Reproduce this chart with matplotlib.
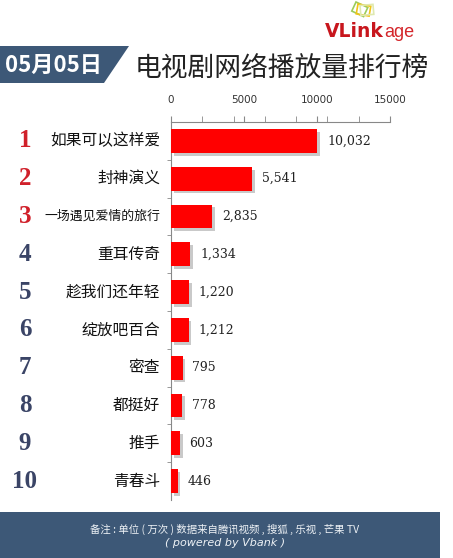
import matplotlib
matplotlib.use("Agg")
import matplotlib.pyplot as plt
import matplotlib.patches as mpatches
import matplotlib.patheffects as pe
from matplotlib.transforms import blended_transform_factory

plt.rcParams['font.family'] = ['Noto Sans CJK SC', 'DejaVu Sans']

# data
ranks = ['1', '2', '3', '4', '5', '6', '7', '8', '9', '10']
dramas = ['如果可以这样爱', '封神演义', '一场遇见爱情的旅行', '重耳传奇', '趁我们还年轻',
          '绽放吧百合', '密查', '都挺好', '推手', '青春斗']
views = [10032, 5541, 2835, 1334, 1220, 1212, 795, 778, 603, 446]
x_ticks = [0, 5000, 10000, 15000]

W, H = 453, 558
navy = '#3d5877'
fig = plt.figure(figsize=(W / 100, H / 100), dpi=100)

# background layer in pixel coords
bg = fig.add_axes([0, 0, 1, 1], zorder=0)
bg.set_xlim(0, W)
bg.set_ylim(H, 0)
bg.axis('off')

# date banner
bg.add_patch(mpatches.Polygon([(0, 46), (129, 46), (104, 83), (0, 83)], closed=True,
                              facecolor=navy, edgecolor='none'))
bg.text(54, 65, '05月05日', color='white', fontsize=16, fontweight='bold',
        ha='center', va='center')
bg.text(135, 69, '电视剧网络播放量排行榜', color='#222222', fontsize=19.3,
        ha='left', va='center')

# logo: "VLink" bold + "age" regular, placed right after each other
t1 = bg.text(325, 37, 'VLink', color='#c8161d', fontsize=13.5, fontweight='bold',
             family='DejaVu Sans', ha='left', va='baseline')
fig.canvas.draw()
bb = t1.get_window_extent(fig.canvas.get_renderer())
age_x = 325 + bb.width + 0.5
bg.text(age_x, 37, 'age', color='#d4262b', fontsize=13,
        family='Liberation Sans', ha='left', va='baseline')
for dx, dy, ang, col in [(0, 0, 25, '#9ccc5a'), (2, 2, 10, '#f0c419'), (4, 3.5, -5, '#dfe9b0')]:
    bg.add_patch(mpatches.Rectangle((356 + dx, 2 + dy), 13, 10, angle=ang,
                                    fill=False, edgecolor=col, linewidth=1.2))

# footer
bg.add_patch(mpatches.Rectangle((0, 512), 440, 46, facecolor=navy, edgecolor='none'))
bg.text(225, 529, '备注 : 单位 ( 万次 ) 数据来自腾讯视频 , 搜狐 , 乐视 , 芒果 TV',
        color='#eef2f6', fontsize=7.5, ha='center', va='center')
bg.text(225, 543, '( powered by Vbank )', color='#eef2f6', fontsize=8,
        style='italic', family='DejaVu Sans', ha='center', va='center')

# main chart
ax = fig.add_axes([171 / W, 1 - 500 / H, 219 / W, 378 / H], zorder=1)
ax.patch.set_alpha(0)
y = list(range(len(views)))
bars = ax.barh(y, views, height=0.63, color='#ff0000', zorder=3)
for b in bars:
    b.set_path_effects([pe.SimplePatchShadow(offset=(2, -2), shadow_rgbFace='#666666', alpha=0.35),
                        pe.Normal()])
ax.set_xlim(0, 15000)
ax.set_ylim(len(views) - 0.5, -0.5)

ax.xaxis.tick_top()
ax.set_xticks(x_ticks)
ax.set_xticklabels([str(t) for t in x_ticks], fontsize=7.5, color='#333333',
                   family='DejaVu Sans')
ax.set_xticks([15000 * k / 7 for k in range(8)], minor=True)
ax.tick_params(axis='x', which='both', direction='out', length=4, color='#888888', pad=8)
ax.set_yticks([])
ax.set_yticks([i + 0.5 for i in y[:-1]], minor=True)
ax.tick_params(axis='y', which='minor', direction='out', length=3, color='#888888')
for s in ['right', 'bottom']:
    ax.spines[s].set_visible(False)
for s in ['top', 'left']:
    ax.spines[s].set_color('#888888')
    ax.spines[s].set_linewidth(0.8)

for i, v in enumerate(views):
    ax.annotate(f'{v:,}', (v, i), xytext=(7, 0), textcoords='offset points',
                va='center', ha='left', fontsize=9, family='DejaVu Serif', color='#222222')

tr = blended_transform_factory(fig.transFigure, ax.transData)
for i, (r, name) in enumerate(zip(ranks, dramas)):
    col = '#d0202a' if i < 3 else '#3a4466'
    ax.text(25 / W, i, r, transform=tr, ha='center', va='center', fontsize=18,
            fontweight='bold', family='Liberation Serif', color=col)
    fs = 9.3 if len(name) > 7 else 11.3
    ax.text(160 / W, i, name, transform=tr, ha='right', va='center', fontsize=fs,
            color='#111111')

fig.savefig('out.png', dpi=100)
